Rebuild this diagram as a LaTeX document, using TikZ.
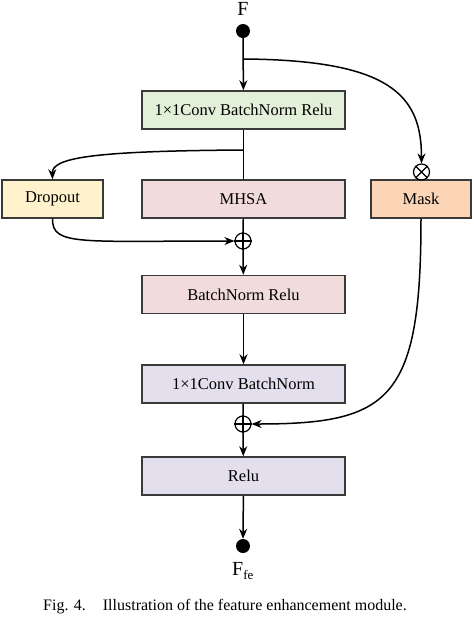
\documentclass[tikz,border=0pt]{standalone}
\usepackage{fontspec}
\setmainfont{Liberation Serif}
\usetikzlibrary{arrows.meta}
\definecolor{convgreen}{HTML}{E2EFD9}
\definecolor{attnpink}{HTML}{F2DCDB}
\definecolor{maskorange}{HTML}{FBD5B5}
\definecolor{dropyellow}{HTML}{FFF2CC}
\definecolor{normpurple}{HTML}{E4DFEC}
\definecolor{edgegray}{HTML}{3A3A3A}
\tikzset{
	block/.style={draw=edgegray, line width=1.5pt, minimum width=203pt, minimum height=38pt, inner sep=0pt, font=\fontsize{16.5}{18}\selectfont},
	sidebox/.style={block, minimum width=100pt},
	port/.style={circle, fill=black, inner sep=0pt, minimum size=14pt},
	opcirc/.style={circle, draw=black, line width=1.2pt, inner sep=0pt, minimum size=16pt},
	flow/.style={line width=1.5pt, -{Stealth[length=10pt,width=8pt]}},
	wire/.style={line width=1.5pt}
}
\begin{document}
\begin{tikzpicture}[x=1pt, y=-1pt]
		\useasboundingbox (0,0) rectangle (474,622);
		\node[font=\fontsize{20}{22}\selectfont] (Flab) at (243, 9) {F};
		\node[port] (Fin) at (243, 31) {};
		\node[block, fill=convgreen] (conv1) at (243.5, 110) {1×1Conv BatchNorm Relu};
		\node[block, fill=attnpink] (mhsa) at (243.5, 199) {MHSA};
		\node[sidebox, fill=dropyellow, minimum width=101pt] (drop) at (52.5, 199) {Dropout};
		\node[sidebox, fill=maskorange] (mask) at (421, 199) {Mask};
		\node[opcirc] (mul) at (421.5, 172) {};
		\node[opcirc] (add1) at (243, 241) {};
		\node[block, fill=attnpink] (bnrelu) at (243.5, 294.5) {BatchNorm Relu};
		\node[block, fill=normpurple] (conv2) at (243.5, 384) {1×1Conv BatchNorm};
		\node[opcirc] (add2) at (243, 424) {};
		\node[block, fill=normpurple] (relu) at (243.5, 476) {Relu};
		\node[port] (Fout) at (243, 546) {};
		\node[font=\fontsize{20}{22}\selectfont] (Foutlab) at (243, 571) {F\textsubscript{\fontsize{13}{14}\selectfont fe}};
		\node[font=\fontsize{16}{18}\selectfont] (cap) at (225, 607) {Fig. 4.\hspace{17pt}Illustration of the feature enhancement module.};
		\coordinate (split1) at (243, 59);
		\coordinate (split2) at (243, 150);

		% signs inside the circles
		\draw[line width=1.2pt] (mul.north east) -- (mul.south west) (mul.north west) -- (mul.south east);
		\draw[line width=1.2pt] (add1.north) -- (add1.south) (add1.west) -- (add1.east);
		\draw[line width=1.2pt] (add2.north) -- (add2.south) (add2.west) -- (add2.east);

		\path (Fin) edge[flow] (conv1)
		(conv1) edge[wire] (mhsa)
		(mhsa) edge[wire] (add1)
		(add1) edge[flow] (bnrelu)
		(bnrelu) edge[flow] (conv2)
		(conv2) edge[wire] (add2)
		(add2) edge[flow] (relu)
		(relu) edge[flow] (Fout);

		\draw[flow] (split1) .. controls (390, 60) and (421.5, 95) .. (mul.north);
		\draw[flow] (split2) .. controls (90, 151) and (52, 158) .. (drop.north);
		\draw[flow] (drop.south) .. controls (52, 246) and (80, 241) .. (add1.west);
		\draw[flow] (mask.south) .. controls (421, 400) and (390, 424) .. (add2.east);
	\end{tikzpicture}
\end{document}
